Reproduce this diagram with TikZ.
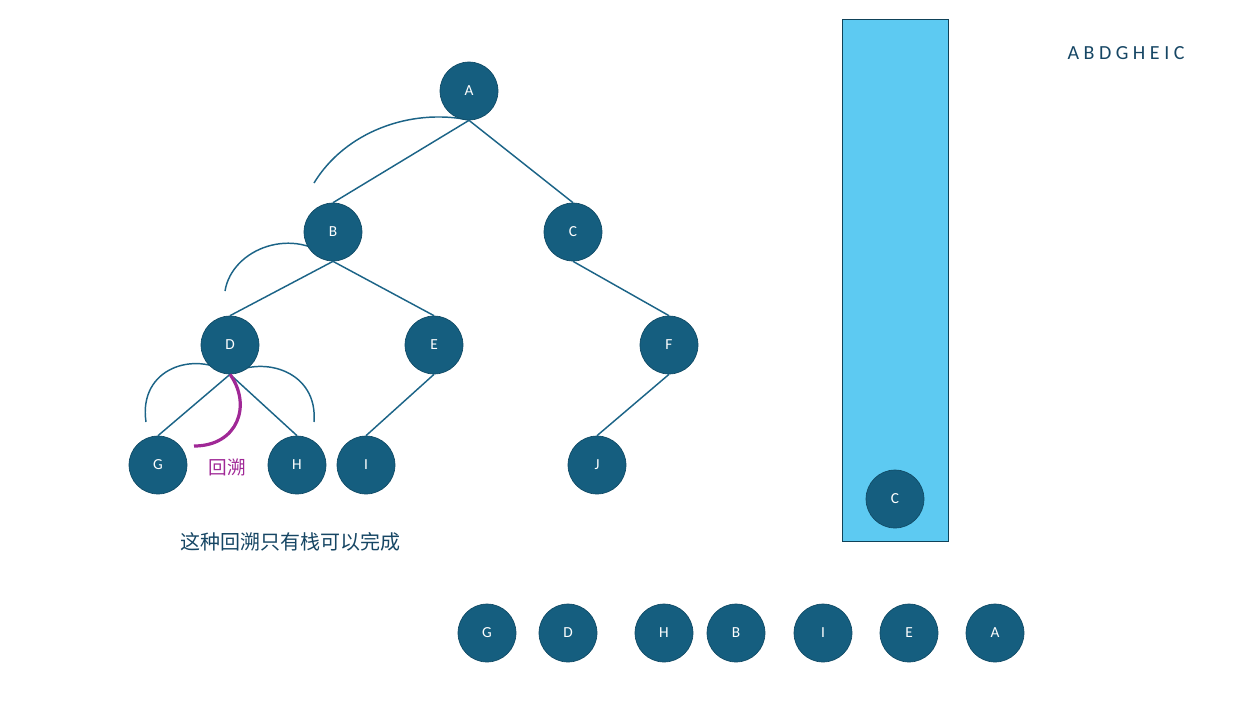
\documentclass[tikz,border=0pt]{standalone}
\usepackage{fontspec}
\setmainfont{Carlito}
\newfontfamily\cjk{Noto Sans CJK SC}
\definecolor{nodefill}{RGB}{21,94,127}
\definecolor{edgecol}{RGB}{28,100,135}
\definecolor{stackfill}{RGB}{93,202,242}
\definecolor{purp}{RGB}{160,40,150}
\definecolor{txtcol}{RGB}{22,70,100}
\begin{document}
\begin{tikzpicture}[x=0.75pt,y=-0.75pt,
  tn/.style={circle,fill=nodefill,draw=nodefill!80!black,line width=0.5pt,minimum size=43.5pt,inner sep=0pt,text=white,font=\fontsize{11.5}{12}\selectfont},
  edge/.style={draw=edgecol,line width=1.1pt},
  arcline/.style={draw=edgecol,line width=1.1pt}]
\useasboundingbox (0,0) rectangle (1239,701);
% stack
\node[draw=nodefill!70!black,fill=stackfill,line width=0.6pt,minimum width=79.5pt,minimum height=392pt,inner sep=0pt] (stack) at (895,280.5) {};
% arcs (under nodes)
\coordinate (as) at (469,120);
\coordinate (a1) at (314,183);
\draw[arcline] (a1) .. controls (345,132) and (410,108) .. (as);
\coordinate (bs) at (333,261);
\coordinate (b1) at (225,291);
\draw[arcline] (b1) .. controls (232,248) and (295,225) .. (bs);
\coordinate (ds) at (230,374);
\coordinate (d1) at (146,422);
\coordinate (d2) at (314,422);
\draw[arcline] (d1) .. controls (138,368) and (195,350) .. (ds);
\draw[arcline] (ds) .. controls (265,355) and (318,372) .. (d2);
% tree nodes
\node[tn] (A) at (469,91) {A};
\node[tn] (B) at (333,232) {B};
\node[tn] (C) at (573,232) {C};
\node[tn] (D) at (230,345) {D};
\node[tn] (E) at (434,345) {E};
\node[tn] (F) at (669,345) {F};
\node[tn] (G) at (158,465) {G};
\node[tn] (H) at (297,465) {H};
\node[tn] (I) at (366,465) {I};
\node[tn] (J) at (597,465) {J};
% edges
\draw[edge] (A.south) -- (B.north);
\draw[edge] (A.south) -- (C.north);
\draw[edge] (B.south) -- (D.north);
\draw[edge] (B.south) -- (E.north);
\draw[edge] (C.south) -- (F.north);
\draw[edge] (D.south) -- (G.north);
\draw[edge] (D.south) -- (H.north);
\draw[edge] (E.south) -- (I.north);
\draw[edge] (F.south) -- (J.north);
% backtrack arc
\coordinate (p1) at (194,446);
\draw[purp,line width=2.4pt] (D.south) .. controls (252,405) and (238,446) .. (p1);
\node[text=purp,font=\cjk\fontsize{14}{16}\selectfont] (bt) at (227,467) {回溯};
\node[text=txtcol,font=\cjk\fontsize{15}{17}\selectfont] (note) at (290,542) {这种回溯只有栈可以完成};
% stack content
\node[tn] (SC) at (895,499) {C};
% output row
\node[tn] (OG) at (487,633) {G};
\node[tn] (OD) at (568,633) {D};
\node[tn] (OH) at (664,633) {H};
\node[tn] (OB) at (736,633) {B};
\node[tn] (OI) at (823,633) {I};
\node[tn] (OE) at (909,633) {E};
\node[tn] (OA) at (995,633) {A};
% sequence text
\node[text=txtcol,font=\fontsize{15}{17}\selectfont] (seq) at (1126,53) {A B D G H E I C};
\end{tikzpicture}
\end{document}
